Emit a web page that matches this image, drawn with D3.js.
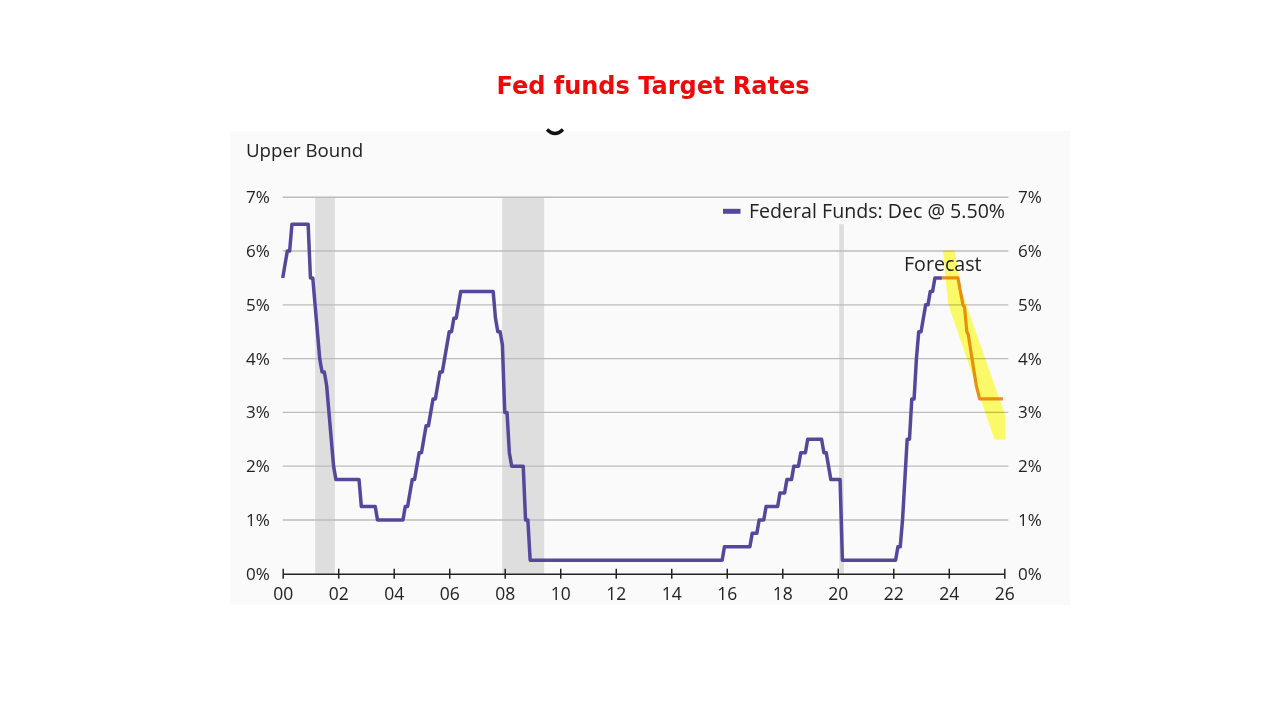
<!DOCTYPE html>
<html>
<head>
<meta charset="utf-8">
<script src="https://cdn.jsdelivr.net/npm/d3@7"></script>
<style>
  html, body { margin: 0; padding: 0; background: #ffffff; }
  svg { display: block; }
</style>
</head>
<body>
<svg id="SVG_CONTAINER" width="1280" height="720"></svg>
<script>
let d3 = window.d3;

// month-end upper bound of the fed funds target, Jan 2000 .. Oct 2023
const startYear = 2000;
const monthlyUpper = [
  5.5, 5.75, 6, 6, 6.5, 6.5, 6.5, 6.5, 6.5, 6.5, 6.5, 6.5,             // 2000
  5.5, 5.5, 5, 4.5, 4, 3.75, 3.75, 3.5, 3, 2.5, 2, 1.75,               // 2001
  1.75, 1.75, 1.75, 1.75, 1.75, 1.75, 1.75, 1.75, 1.75, 1.75, 1.25, 1.25, // 2002
  1.25, 1.25, 1.25, 1.25, 1.25, 1, 1, 1, 1, 1, 1, 1,                   // 2003
  1, 1, 1, 1, 1, 1.25, 1.25, 1.5, 1.75, 1.75, 2, 2.25,                 // 2004
  2.25, 2.5, 2.75, 2.75, 3, 3.25, 3.25, 3.5, 3.75, 3.75, 4, 4.25,      // 2005
  4.5, 4.5, 4.75, 4.75, 5, 5.25, 5.25, 5.25, 5.25, 5.25, 5.25, 5.25,   // 2006
  5.25, 5.25, 5.25, 5.25, 5.25, 5.25, 5.25, 5.25, 4.75, 4.5, 4.5, 4.25, // 2007
  3, 3, 2.25, 2, 2, 2, 2, 2, 2, 1, 1, 0.25,                            // 2008
  0.25, 0.25, 0.25, 0.25, 0.25, 0.25, 0.25, 0.25, 0.25, 0.25, 0.25, 0.25, // 2009
  0.25, 0.25, 0.25, 0.25, 0.25, 0.25, 0.25, 0.25, 0.25, 0.25, 0.25, 0.25, // 2010
  0.25, 0.25, 0.25, 0.25, 0.25, 0.25, 0.25, 0.25, 0.25, 0.25, 0.25, 0.25, // 2011
  0.25, 0.25, 0.25, 0.25, 0.25, 0.25, 0.25, 0.25, 0.25, 0.25, 0.25, 0.25, // 2012
  0.25, 0.25, 0.25, 0.25, 0.25, 0.25, 0.25, 0.25, 0.25, 0.25, 0.25, 0.25, // 2013
  0.25, 0.25, 0.25, 0.25, 0.25, 0.25, 0.25, 0.25, 0.25, 0.25, 0.25, 0.25, // 2014
  0.25, 0.25, 0.25, 0.25, 0.25, 0.25, 0.25, 0.25, 0.25, 0.25, 0.25, 0.5,  // 2015
  0.5, 0.5, 0.5, 0.5, 0.5, 0.5, 0.5, 0.5, 0.5, 0.5, 0.5, 0.75,         // 2016
  0.75, 0.75, 1, 1, 1, 1.25, 1.25, 1.25, 1.25, 1.25, 1.25, 1.5,        // 2017
  1.5, 1.5, 1.75, 1.75, 1.75, 2, 2, 2, 2.25, 2.25, 2.25, 2.5,          // 2018
  2.5, 2.5, 2.5, 2.5, 2.5, 2.5, 2.25, 2.25, 2, 1.75, 1.75, 1.75,       // 2019
  1.75, 1.75, 0.25, 0.25, 0.25, 0.25, 0.25, 0.25, 0.25, 0.25, 0.25, 0.25, // 2020
  0.25, 0.25, 0.25, 0.25, 0.25, 0.25, 0.25, 0.25, 0.25, 0.25, 0.25, 0.25, // 2021
  0.25, 0.25, 0.5, 0.5, 1, 1.75, 2.5, 2.5, 3.25, 3.25, 4, 4.5,         // 2022
  4.5, 4.75, 5, 5, 5.25, 5.25, 5.5, 5.5, 5.5, 5.5                      // 2023
];

// hand drawn forecast path (orange)
const forecastYears = [2023.75, 2024.33, 2024.51, 2024.57, 2024.65, 2024.7, 2024.99, 2025.11, 2025.95];
const forecastRates = [5.5, 5.5, 5.0, 4.95, 4.5, 4.45, 3.5, 3.25, 3.25];

// yellow highlighter stroke outline
const markerYears = [2023.79, 2024.21, 2024.45, 2026.05, 2026.05, 2025.65, 2023.97];
const markerRates = [6.01, 6.01, 5.27, 2.92, 2.49, 2.49, 5.03];

// recessions (grey bars)
const recStart = [2001.17, 2007.91, 2020.05];
const recEnd   = [2001.88, 2009.42, 2020.22];
const recTop   = [7, 7, 6.5];

const xTicks = [2000, 2002, 2004, 2006, 2008, 2010, 2012, 2014, 2016, 2018, 2020, 2022, 2024, 2026];
const yTicks = [0, 1, 2, 3, 4, 5, 6, 7];

const titleText = "Fed funds Target Rates";
const subTitle = "Upper Bound";
const legendText = "Federal Funds: Dec @ 5.50%";
const forecastText = "Forecast";

const PURPLE = "#56479c";
const FONT = "'Open Sans', 'Noto Sans', sans-serif";

let svg = d3.select("#SVG_CONTAINER");

let xScale = d3.scaleLinear()
    .domain([2000, 2026])
    .range([282.7, 1004.3]);

let yScale = d3.scaleLinear()
    .domain([0, 7])
    .range([573.7, 197.3]);

// panel background (screenshot area)
svg.append("rect")
    .attr("x", 230).attr("y", 131)
    .attr("width", 840).attr("height", 474)
    .attr("fill", "#fafafa");

// cut-off descender left over from the original heading
svg.append("path")
    .attr("d", "M547,129.5 Q555,137.5 563,129.5")
    .attr("fill", "none")
    .attr("stroke", "#111")
    .attr("stroke-width", 3.2);

// title
svg.append("text")
    .attr("x", 653).attr("y", 94)
    .attr("text-anchor", "middle")
    .attr("textLength", 313)
    .attr("lengthAdjust", "spacingAndGlyphs")
    .style("font-family", "'Comic Sans MS', 'DejaVu Sans', sans-serif")
    .style("font-weight", "700")
    .style("font-size", "24px")
    .style("fill", "#ee0a0a")
    .text(titleText);

svg.append("text")
    .attr("x", 246).attr("y", 157)
    .style("font-family", FONT)
    .style("font-size", "18.7px")
    .style("fill", "#222")
    .text(subTitle);

// recession bars
svg.selectAll(".rec")
  .data(recStart)
  .join("rect")
    .attr("class", "rec")
    .attr("x", d => xScale(d))
    .attr("width", (d, i) => xScale(recEnd[i]) - xScale(d))
    .attr("y", (d, i) => yScale(recTop[i]))
    .attr("height", (d, i) => yScale(0) - yScale(recTop[i]))
    .attr("fill", "#dedede");

// gridlines
svg.selectAll(".grid")
  .data(yTicks.filter(d => d > 0))
  .join("line")
    .attr("class", "grid")
    .attr("x1", xScale(2000)).attr("x2", xScale(2026) + 4)
    .attr("y1", d => yScale(d)).attr("y2", d => yScale(d))
    .attr("stroke", "#bcbcbc")
    .attr("stroke-width", 1.4);

// y labels both sides
svg.selectAll(".ylabL")
  .data(yTicks)
  .join("text")
    .attr("class", "ylabL")
    .attr("x", 246)
    .attr("y", d => yScale(d))
    .attr("dy", "0.35em")
    .style("font-family", FONT)
    .style("font-size", "17px")
    .style("fill", "#222")
    .text(d => d + "%");

svg.selectAll(".ylabR")
  .data(yTicks)
  .join("text")
    .attr("class", "ylabR")
    .attr("x", 1018)
    .attr("y", d => yScale(d))
    .attr("dy", "0.35em")
    .style("font-family", FONT)
    .style("font-size", "17px")
    .style("fill", "#222")
    .text(d => d + "%");

// x axis
let xAxis = d3.axisBottom(xScale)
    .tickValues(xTicks)
    .tickSizeInner(5)
    .tickSizeOuter(0)
    .tickFormat(d => String(d % 100).padStart(2, "0"));

let gx = svg.append("g")
    .attr("transform", "translate(0," + yScale(0) + ")")
    .call(xAxis);
gx.select(".domain").attr("stroke", "#222").attr("stroke-width", 1.5);
gx.selectAll(".tick line").attr("y1", -5).attr("y2", 5).attr("stroke", "#222").attr("stroke-width", 1.5);
gx.selectAll(".tick text")
    .attr("y", 14)
    .style("font-family", FONT)
    .style("font-size", "17.5px")
    .style("fill", "#222");

// fed funds line
let line = d3.line()
    .x((d, i) => xScale(startYear + i / 12))
    .y(d => yScale(d));

svg.append("path")
    .datum(monthlyUpper)
    .attr("d", line)
    .attr("fill", "none")
    .attr("stroke", PURPLE)
    .attr("stroke-width", 3.5)
    .attr("stroke-linejoin", "round");

// forecast overlay
let fLine = d3.line()
    .x((d, i) => xScale(forecastYears[i]))
    .y(d => yScale(d));

svg.append("path")
    .datum(forecastRates)
    .attr("d", fLine)
    .attr("fill", "none")
    .attr("stroke", "#e8901c")
    .attr("stroke-width", 3.2)
    .attr("stroke-linejoin", "round");

// legend
svg.append("rect")
    .attr("x", 723).attr("y", 208.8)
    .attr("width", 17.5).attr("height", 5)
    .attr("fill", PURPLE);
svg.append("text")
    .attr("x", 749).attr("y", 211.5)
    .attr("dy", "0.35em")
    .style("font-family", FONT)
    .style("font-size", "19.6px")
    .style("fill", "#222")
    .text(legendText);

svg.append("text")
    .attr("x", 904).attr("y", 270.5)
    .style("font-family", FONT)
    .style("font-size", "19.6px")
    .style("fill", "#222")
    .text(forecastText);

// highlighter
let mLine = d3.line()
    .x((d, i) => xScale(markerYears[i]))
    .y(d => yScale(d))
    .curve(d3.curveLinearClosed);

svg.append("path")
    .datum(markerRates)
    .attr("d", mLine)
    .attr("fill", "#ffff00")
    .attr("fill-opacity", 0.58)
    .style("mix-blend-mode", "multiply");
</script>
</body>
</html>
